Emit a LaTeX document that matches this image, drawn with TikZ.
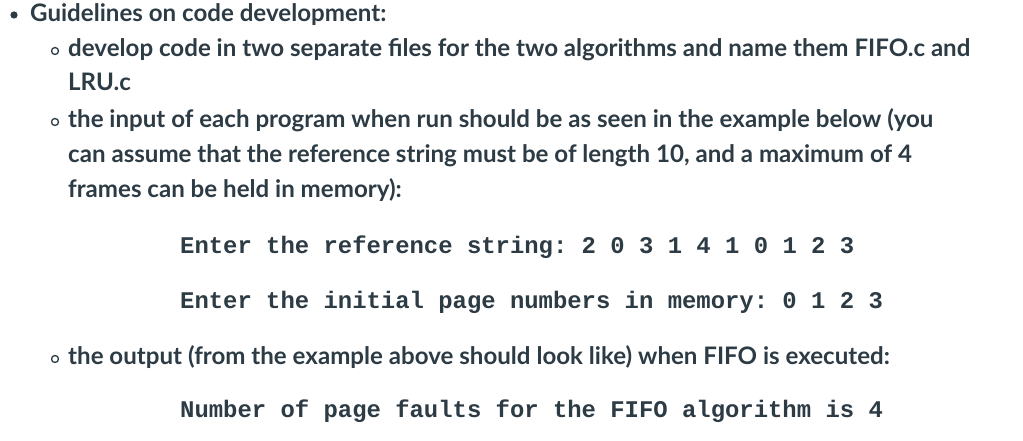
\documentclass[tikz,border=0pt]{standalone}
\usepackage{fontspec}
\setmainfont{Lato}
\setmonofont{Liberation Mono}
\definecolor{txt}{HTML}{2D3B45}
\begin{document}
\begin{tikzpicture}[x=1pt,y=1pt,
  tx/.style={anchor=base west,inner sep=0,text=txt,font=\fontsize{24.1}{28}\selectfont\bfseries},
  mono/.style={anchor=base west,inner sep=0,text=txt,font=\fontsize{23.9}{28}\selectfont\ttfamily\bfseries},
  hb/.style={draw=txt,line width=1.3pt,circle,inner sep=0,minimum size=7pt}]
\useasboundingbox (0,0) rectangle (1023,441);
\fill[txt] (14,441-15) circle (3.6);
\node[tx] (l1) at (30,441-22) {Guidelines on code development:};
\node[hb] (b1) at (55,441-51) {};
\node[tx] (l2) at (68,441-57) {develop code in two separate files for the two algorithms and name them FIFO.c and};
\node[tx] (l3) at (68,441-91) {LRU.c};
\node[hb] (b2) at (55,441-122) {};
\node[tx] (l4) at (68,441-128) {the input of each program when run should be as seen in the example below (you};
\node[tx] (l5) at (68,441-163) {can assume that the reference string must be of length 10, and a maximum of 4};
\node[tx] (l6) at (68,441-198) {frames can be held in memory):};
\node[mono] (m1) at (180,441-254) {Enter the reference string: 2 0 3 1 4 1 0 1 2 3};
\node[mono] (m2) at (180,441-309) {Enter the initial page numbers in memory: 0 1 2 3};
\node[hb] (b3) at (55,441-359) {};
\node[tx] (l7) at (68,441-365) {the output (from the example above should look like) when FIFO is executed:};
\node[mono] (m3) at (180,441-418) {Number of page faults for the FIFO algorithm is 4};
\end{tikzpicture}
\end{document}
